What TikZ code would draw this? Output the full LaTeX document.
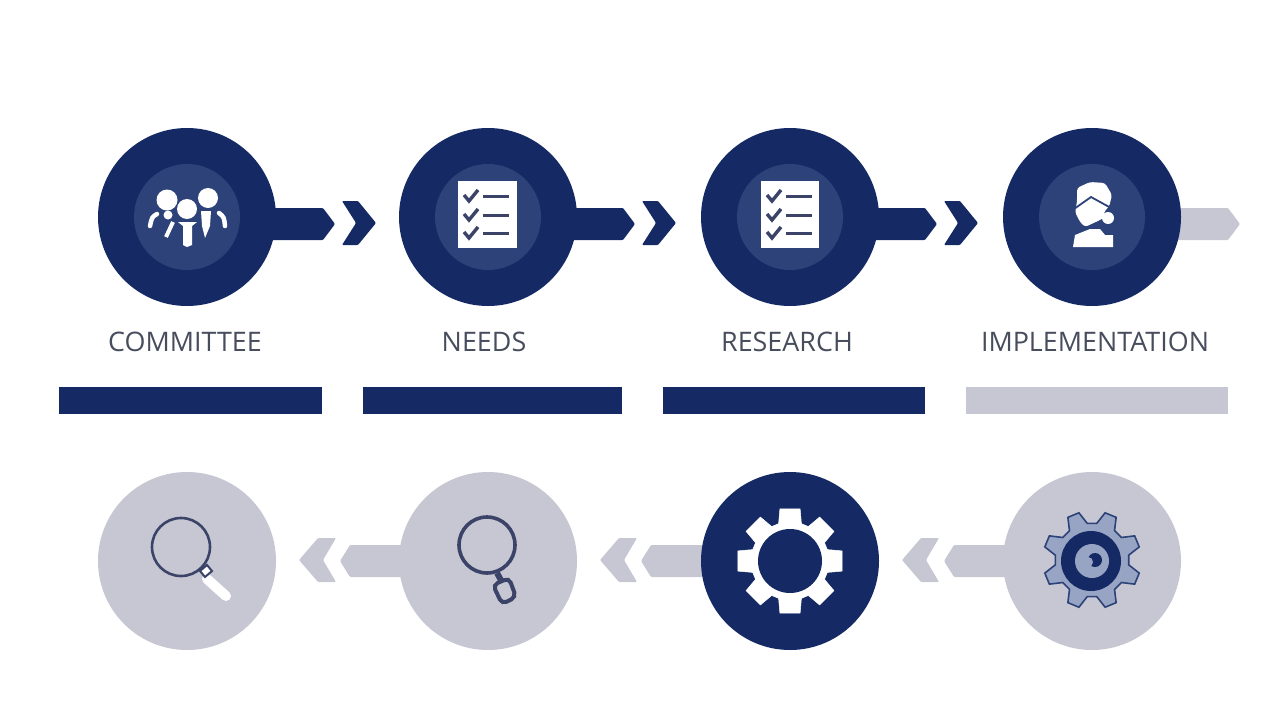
\documentclass[tikz,border=0pt]{standalone}
\usepackage{fontspec}
\setmainfont{Open Sans}
\usetikzlibrary{calc}
\definecolor{navy}{HTML}{152A65}
\definecolor{navylight}{HTML}{2C4279}
\definecolor{fog}{HTML}{C6C7D2}
\definecolor{labelgrey}{HTML}{474D5C}
\definecolor{steel}{HTML}{98A4C3}
\definecolor{inkgrey}{HTML}{3B4468}
\newlength{\unitlen}
\setlength{\unitlen}{0.02cm}
\tikzset{
	step disc/.style={circle, inner sep=0pt, minimum size=178\unitlen},
	phase label/.style={text=labelgrey, font=\fontsize{15.3pt}{16pt}\selectfont, anchor=base},
	soft/.style={rounded corners=1\unitlen},
}
% block arrows, given by the x of the circle centre, the end of the shaft and the y
\def\stubright[#1](#2,#3,#4){\fill[#1, soft] (#2,#4-16) -- (#3-12,#4-16) -- (#3,#4) -- (#3-12,#4+16) -- (#2,#4+16) -- cycle;}
\def\stubleft[#1](#2,#3,#4){\fill[#1, soft] (#2,#4-16) -- (#3+10,#4-16) -- (#3,#4) -- (#3+10,#4+16) -- (#2,#4+16) -- cycle;}
\def\chevright[#1](#2,#3){\fill[#1, soft] (#2,#3-22) -- (#2+16,#3-22) -- (#2+34,#3) -- (#2+16,#3+22) -- (#2,#3+22) -- (#2+14,#3) -- cycle;}
\def\chevleft[#1](#2,#3){\fill[#1, soft] (#2,#3-22) -- (#2-18,#3-22) -- (#2-37,#3) -- (#2-18,#3+22) -- (#2,#3+22) -- (#2-13,#3) -- cycle;}
% checklist on a sheet, #1 and #2 its top left corner, #3 its width
\def\checksheet(#1,#2,#3){
	\fill[white] (#1,#2) rectangle (#1+#3,#2+67);
	\foreach \rowy in {15,34,52}{
		\draw[inkgrey, line width=3.4\unitlen] (#1+6,#2+\rowy-1) -- (#1+11,#2+\rowy+5) -- (#1+20,#2+\rowy-6);
		\draw[inkgrey, line width=3\unitlen] (#1+25,#2+\rowy) -- (#1+51,#2+\rowy);
	}
}
% gear outline: centre, body radius, tooth radius, half widths of a tooth, first tooth angle
\def\gearpath[#1](#2)(#3,#4)(#5,#6)(#7){
	\draw[#1] ($(#2)+(#7-#5:#3)$) \foreach \toothang in {0,45,...,315}{
		-- ($(#2)+(#7+\toothang-#5:#3)$) -- ($(#2)+(#7+\toothang-#6:#4)$) -- ($(#2)+(#7+\toothang+#6:#4)$) -- ($(#2)+(#7+\toothang+#5:#3)$)
	} -- cycle;
}
\begin{document}
\begin{tikzpicture}[x=0.02cm, y=-0.02cm]
	%%%%% START %%%%%
	\useasboundingbox (0,0) rectangle (1280,720);

	% top row block arrows
	\stubright[navy](187,335,224)
	\chevright[navy](342,223)
	\stubright[navy](488,635,224)
	\chevright[navy](642,223)
	\stubright[navy](790,937,224)
	\chevright[navy](944,223)
	\stubright[fog](1092,1240,224)

	% bottom row block arrows
	\stubleft[fog](488,340,561)
	\chevleft[fog](336,560)
	\stubleft[fog](790,641,561)
	\chevleft[fog](637,560)
	\stubleft[fog](1092,944,561)
	\chevleft[fog](939,560)

	% discs
	\node[step disc, fill=navy] (committee) at (187,217) {};
	\node[step disc, fill=navy] (needs) at (488,217) {};
	\node[step disc, fill=navy] (research) at (790,217) {};
	\node[step disc, fill=navy] (implementation) at (1092,217) {};
	\node[step disc, fill=fog] (search) at (187,561) {};
	\node[step disc, fill=fog] (inspect) at (488,561) {};
	\node[step disc, fill=navy] (gear) at (790,561) {};
	\node[step disc, fill=fog] (tuning) at (1092,561) {};

	\fill[navylight] (committee) circle (53);
	\fill[navylight] (needs) circle (53);
	\fill[navylight] (research) circle (53);
	\fill[navylight] (implementation) circle (53);

	% labels
	\node[phase label] (committeetext) at (185,351) {COMMITTEE};
	\node[phase label] (needstext) at (484,351) {NEEDS};
	\node[phase label] (researchtext) at (787,351) {RESEARCH};
	\node[phase label] (implementationtext) at (1095,351) {IMPLEMENTATION};

	% bars
	\fill[navy] (59,387) rectangle (322,414);
	\fill[navy] (363,387) rectangle (622,414);
	\fill[navy] (663,387) rectangle (925,414);
	\fill[fog] (966,387) rectangle (1228,414);

	% people icon
	\fill[white] (167,200) circle (10.5);
	\fill[white] (208,198) circle (10);
	\fill[white] (187,209) circle (10);
	\fill[white] (178,222) -- (197,222) -- (192,226) -- (192,245) -- (187,247) -- (183,245) -- (183,226) -- cycle;
	\fill[white] (201,211) -- (211,211) -- (210,226) -- (205,238) -- (202,226) -- cycle;
	\fill[white] (168,215) circle (4.5);
	\draw[white, line width=4\unitlen] (173,222) -- (166,237);
	\draw[white, line width=4.5\unitlen, line cap=round] (157,214) .. controls (152,217) .. (150,226);
	\draw[white, line width=4.5\unitlen, line cap=round] (219,213) .. controls (224,217) .. (225,226);

	% lists
	\checksheet(458,181,59)
	\checksheet(761,181,58)

	% headset icon
	\fill[white] (1073,247) -- (1075,235) -- (1090,229) -- (1100,229) -- (1105,235) -- (1113,235) -- (1113,247) -- cycle;
	\fill[white, rounded corners=3\unitlen] (1077,202) -- (1077,188) -- (1090,182) -- (1105,183) -- (1112,195) -- (1109,207) -- (1105,210) -- (1103,218) -- (1100,220) -- (1085,227) -- (1080,222) -- (1075,212) -- cycle;
	\draw[navylight, line width=1.8\unitlen] (1074,209) -- (1091,197) -- (1111,208);
	\fill[white] (1108,218) circle (6);

	% glass with white handle
	\draw[inkgrey, line width=2.6\unitlen] (181,547) circle (29);
	\draw[white, line width=10\unitlen, line cap=round] (207,579) -- (226,596);
	\fill[white, draw=inkgrey, line width=2\unitlen] (200,571) -- (207,565) -- (212,571) -- (205,577) -- cycle;

	% glass with loop handle
	\draw[inkgrey, line width=3.6\unitlen] (487,545) circle (28);
	\draw[inkgrey, line width=6\unitlen] (497,573) -- (502,582);
	\draw[inkgrey, line width=4\unitlen, rounded corners=5\unitlen] (493,585) -- (509,578) -- (516,597) -- (502,604) -- cycle;

	% white gear
	\gearpath[white, fill=white, line width=0.5\unitlen](790,561)(39,53)(17,11)(0)
	\fill[navy] (790,561) circle (32);

	% shaded gear
	\gearpath[navylight, fill=steel, line width=1.6\unitlen](1092,560)(37,49)(15,7)(22.5)
	\fill[navy] (1091,561) circle (30);
	\fill[steel] (1092,561) circle (17);
	\fill[navy] (1095,560) circle (7);
	\fill[steel] (1088,562) circle (5);

	%%%%% END %%%%%
\end{tikzpicture}
\end{document}
